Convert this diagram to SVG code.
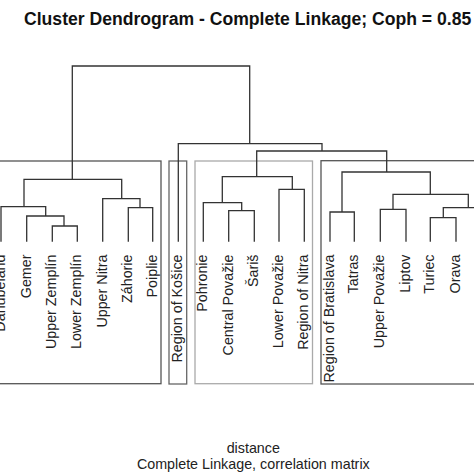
<svg xmlns="http://www.w3.org/2000/svg" width="474" height="474" viewBox="0 0 474 474">
<style>
.bg{fill:#ffffff}
.ln{fill:none;stroke:#333333;stroke-width:1.3}
.bx{fill:none;stroke-width:1.3}
.lb{font-family:"Liberation Sans",Arial,sans-serif;font-size:14.3px;fill:#222222;text-anchor:end}
.ttl{font-family:"Liberation Sans",Arial,sans-serif;font-size:17.6px;font-weight:bold;fill:#111111}
.ax{font-family:"Liberation Sans",Arial,sans-serif;font-size:14.3px;fill:#222222;text-anchor:middle}
</style>
<rect class="bg" x="0" y="0" width="474" height="474"/>
<text class="ttl" x="24" y="24.5">Cluster Dendrogram - Complete Linkage; Coph = 0.85</text>
<g id="clusters">
<rect class="bx" x="-30" y="161" width="191" height="222.7" stroke="#555555"/>
<rect class="bx" x="169" y="161" width="17.7" height="223" stroke="#666666"/>
<rect class="bx" x="195" y="161" width="117.5" height="222.7" stroke="#aaaaaa"/>
<rect class="bx" x="321" y="160.7" width="180" height="223.3" stroke="#555555"/>
</g>
<g id="connectors">
<path class="ln" d="M52.3,241.7 V226 H77.3 V241.7"/>
<path class="ln" d="M26.7,241.7 V216 H64 V226"/>
<path class="ln" d="M1,241.7 V206.7 H45.7 V216"/>
<path class="ln" d="M128.3,241.7 V207.7 H152.7 V241.7"/>
<path class="ln" d="M102.7,241.7 V198.7 H140 V207.7"/>
<path class="ln" d="M24,206.7 V179.3 H121.7 V198.7"/>
<path class="ln" d="M228.7,241.7 V210.7 H254.3 V241.7"/>
<path class="ln" d="M203.3,241.7 V202.7 H241.7 V210.7"/>
<path class="ln" d="M279,241.7 V189.3 H304.3 V241.7"/>
<path class="ln" d="M222.3,202.7 V176.7 H292.3 V189.3"/>
<path class="ln" d="M330,241.7 V212 H354.3 V241.7"/>
<path class="ln" d="M380.3,241.7 V209.3 H406 V241.7"/>
<path class="ln" d="M430.3,241.7 V217.7 H456 V241.7"/>
<path class="ln" d="M443.3,217.7 V207.7 H493 V230"/>
<path class="ln" d="M393,209.3 V194.3 H468.3 V207.7"/>
<path class="ln" d="M342,212 V172 H430.3 V194.3"/>
<path class="ln" d="M256.7,176.7 V151 H386.7 V172"/>
<path class="ln" d="M178.3,241.7 V143.7 H322 V151"/>
<path class="ln" d="M72.3,179.3 V66 H249.7 V143.7"/>
</g>
<g id="leaf-danubeland"><text class="lb" transform="translate(4.8,254.5) rotate(-90)">Danubeland</text></g>
<g id="leaf-gemer"><text class="lb" transform="translate(30.5,254.5) rotate(-90)">Gemer</text></g>
<g id="leaf-upper-zemplin"><text class="lb" transform="translate(56.1,254.5) rotate(-90)">Upper Zemplín</text></g>
<g id="leaf-lower-zemplin"><text class="lb" transform="translate(81.1,254.5) rotate(-90)">Lower Zemplín</text></g>
<g id="leaf-upper-nitra"><text class="lb" transform="translate(106.5,254.5) rotate(-90)">Upper Nitra</text></g>
<g id="leaf-zahorie"><text class="lb" transform="translate(132.1,254.5) rotate(-90)">Záhorie</text></g>
<g id="leaf-poiplie"><text class="lb" transform="translate(156.5,254.5) rotate(-90)">Poiplie</text></g>
<g id="leaf-kosice"><text class="lb" transform="translate(182.1,254.5) rotate(-90)">Region of Košice</text></g>
<g id="leaf-pohronie"><text class="lb" transform="translate(207.1,254.5) rotate(-90)">Pohronie</text></g>
<g id="leaf-central-povazie"><text class="lb" transform="translate(232.5,254.5) rotate(-90)">Central Považie</text></g>
<g id="leaf-saris"><text class="lb" transform="translate(258.1,254.5) rotate(-90)">Šariš</text></g>
<g id="leaf-lower-povazie"><text class="lb" transform="translate(282.8,254.5) rotate(-90)">Lower Považie</text></g>
<g id="leaf-nitra"><text class="lb" transform="translate(308.1,254.5) rotate(-90)">Region of Nitra</text></g>
<g id="leaf-bratislava"><text class="lb" transform="translate(333.8,254.5) rotate(-90)">Region of Bratislava</text></g>
<g id="leaf-tatras"><text class="lb" transform="translate(358.1,254.5) rotate(-90)">Tatras</text></g>
<g id="leaf-upper-povazie"><text class="lb" transform="translate(384.1,254.5) rotate(-90)">Upper Považie</text></g>
<g id="leaf-liptov"><text class="lb" transform="translate(409.8,254.5) rotate(-90)">Liptov</text></g>
<g id="leaf-turiec"><text class="lb" transform="translate(434.1,254.5) rotate(-90)">Turiec</text></g>
<g id="leaf-orava"><text class="lb" transform="translate(459.8,254.5) rotate(-90)">Orava</text></g>
<text class="ax" x="253.3" y="452.5">distance</text>
<text class="ax" x="253.3" y="469">Complete Linkage, correlation matrix</text>
</svg>
